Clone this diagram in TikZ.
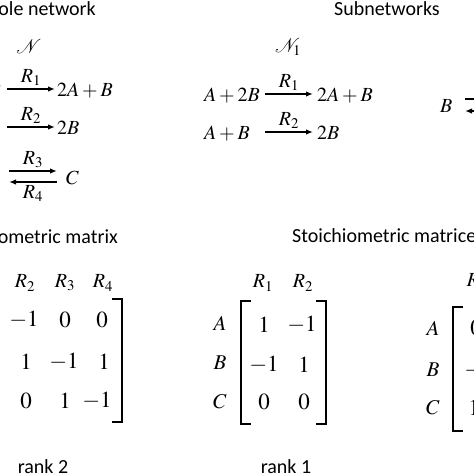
\documentclass[tikz,border=0pt]{standalone}
\usepackage{mathptmx}
\usepackage[no-math]{fontspec}
\newfontfamily\headfont{Carlito}
\usetikzlibrary{arrows.meta,positioning}

\begin{document}
\begin{tikzpicture}[x=1pt, y=-1pt,
    heading/.style={font=\headfont\fontsize{20}{24}\selectfont, inner sep=0pt},
    species/.style={font=\fontsize{20}{24}\selectfont, inner sep=0pt},
    rlabel/.style={font=\fontsize{20}{24}\selectfont, inner sep=0pt},
    rowlabel/.style={font=\fontsize{21}{25}\selectfont, inner sep=0pt},
    entry/.style={font=\fontsize{23}{27}\selectfont, inner sep=0pt},
    rxn/.style={line width=1.4pt, -{Latex[length=7pt,width=5.5pt]}},
    bracket/.style={line width=1.3pt}
]
\useasboundingbox (0,0) rectangle (474,474);
\clip (0,0) rectangle (474,474);

% Headings
\node[heading, anchor=base east] (whole) at (96,15) {Whole network};
\node[heading, anchor=base] (subs) at (387,15) {Subnetworks};
\node[heading, anchor=base east] (smat) at (118,243) {Stoichiometric matrix};
\node[heading, anchor=base west] (smats) at (292,242) {Stoichiometric matrices};
\node[heading, anchor=base] (rank2) at (43,473) {rank 2};
\node[heading, anchor=base] (rank1) at (286,473) {rank 1};

% Whole network
\node[species] (N) at (29,47) {$\mathcal{N}$};
\node[species, anchor=base west] (w1l) at (-55,96) {$A + 2B$};
\node[species, anchor=base west] (w1r) at (57,96) {$2A + B$};
\coordinate (w1a) at (7,89);
\coordinate (w1b) at (55,89);
\draw[rxn] (w1a) -- node[rlabel, above=3pt] (wR1) {$R_1$} (w1b);

\node[species, anchor=base west] (w2r) at (57,134) {$2B$};
\coordinate (w2a) at (7,127);
\coordinate (w2b) at (55,127);
\draw[rxn] (w2a) -- node[rlabel, above=3pt] (wR2) {$R_2$} (w2b);

\node[species, anchor=base west] (w3r) at (66,184) {$C$};
\coordinate (w3a) at (9,171);
\coordinate (w3b) at (57,171);
\coordinate (w4a) at (57,182);
\coordinate (w4b) at (9,182);
\draw[rxn] (w3a) -- node[rlabel, above=3pt] (wR3) {$R_3$} (w3b);
\draw[rxn] (w4a) -- node[rlabel, below=3pt] (wR4) {$R_4$} (w4b);

% Subnetwork N1
\node[species] (N1) at (288,47) {$\mathcal{N}_1$};
\node[species, anchor=base west] (s1l) at (204,101) {$A + 2B$};
\node[species, anchor=base west] (s1r) at (317,101) {$2A + B$};
\coordinate (s1a) at (265,94);
\coordinate (s1b) at (313,94);
\draw[rxn] (s1a) -- node[rlabel, above=3pt] (sR1) {$R_1$} (s1b);

\node[species, anchor=base west] (s2l) at (204,139) {$A + B$};
\node[species, anchor=base west] (s2r) at (317,139) {$2B$};
\coordinate (s2a) at (265,132);
\coordinate (s2b) at (313,132);
\draw[rxn] (s2a) -- node[rlabel, above=3pt] (sR2) {$R_2$} (s2b);

% Subnetwork N2
\node[species, anchor=base west] (t1l) at (440,112) {$B$};
\coordinate (t1a) at (465,99);
\coordinate (t1b) at (513,99);
\coordinate (t2a) at (513,111);
\coordinate (t2b) at (465,111);
\draw[rxn] (t1a) -- (t1b);
\draw[rxn] (t2a) -- (t2b);

% Whole stoichiometric matrix
\node[rlabel] (hR2) at (25,283) {$R_2$};
\node[rlabel] (hR3) at (65,283) {$R_3$};
\node[rlabel] (hR4) at (103,283) {$R_4$};
\node[entry] (mA2) at (24,320) {$-1$};
\node[entry] (mA3) at (65,320) {$0$};
\node[entry] (mA4) at (102,320) {$0$};
\node[entry] (mB2) at (26,362) {$1$};
\node[entry] (mB3) at (64,362) {$-1$};
\node[entry] (mB4) at (104,362) {$1$};
\node[entry] (mC2) at (26,401) {$0$};
\node[entry] (mC3) at (65,401) {$1$};
\node[entry] (mC4) at (97,401) {$-1$};
\draw[bracket] (112,299) -- (122,299) -- (122,422) -- (112,422);

% Matrix of N1
\node[rowlabel] (nA) at (220,323) {$A$};
\node[rowlabel] (nB) at (220,363) {$B$};
\node[rowlabel] (nC) at (220,402) {$C$};
\node[rlabel] (nR1) at (263,283) {$R_1$};
\node[rlabel] (nR2) at (303,283) {$R_2$};
\node[entry] (nA1) at (264,325) {$1$};
\node[entry] (nA2) at (302,325) {$-1$};
\node[entry] (nB1) at (264,365) {$-1$};
\node[entry] (nB2) at (304,365) {$1$};
\node[entry] (nC1) at (264,402) {$0$};
\node[entry] (nC2) at (304,402) {$0$};
\draw[bracket] (251,301) -- (241,301) -- (241,424) -- (251,424);
\draw[bracket] (316,301) -- (326,301) -- (326,424) -- (316,424);

% Matrix of N2
\node[rowlabel] (pA) at (433,328) {$A$};
\node[rowlabel] (pB) at (433,370) {$B$};
\node[rowlabel] (pC) at (433,408) {$C$};
\node[rlabel] (pR3) at (477,282) {$R_3$};
\node[entry] (pA3) at (476,328) {$0$};
\node[entry] (pB3) at (479,370) {$-1$};
\node[entry] (pC3) at (474,408) {$1$};
\draw[bracket] (463,307) -- (453,307) -- (453,431) -- (463,431);

\end{tikzpicture}
\end{document}
